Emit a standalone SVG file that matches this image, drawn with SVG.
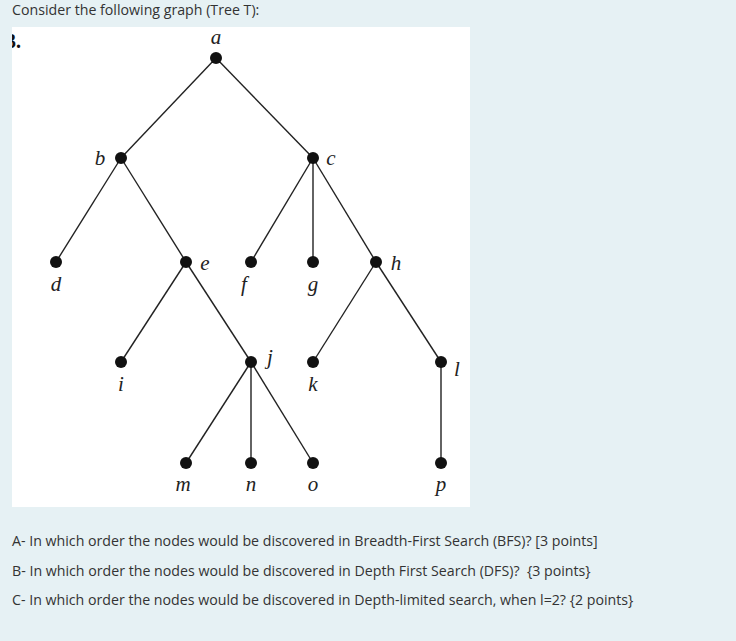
<svg xmlns="http://www.w3.org/2000/svg" width="736" height="641" viewBox="0 0 736 641">
<style>
.q{font-family:"Open Sans","DejaVu Sans",sans-serif;font-size:14.2px;fill:#333;white-space:pre}
.lb{font-family:"Liberation Serif",serif;font-style:italic;font-size:21px;fill:#222;text-anchor:middle}
.e{stroke:#222;stroke-width:1.4}
circle{fill:#111}
</style>
<rect width="736" height="641" fill="#e6f1f4"/>
<rect x="12" y="27" width="458" height="480" fill="#fff"/>
<text x="12" y="15" class="q">Consider the following graph (Tree T):</text>
<text x="6" y="48" font-family="Liberation Serif,serif" font-weight="bold" font-size="20" fill="#111">3.</text>
<rect x="0" y="27" width="12" height="30" fill="#e6f1f4"/>
<g id="connectors">
<line class="e" x1="216" y1="58" x2="121" y2="158"/>
<line class="e" x1="216" y1="58" x2="313" y2="158"/>
<line class="e" x1="121" y1="158" x2="56" y2="262"/>
<line class="e" x1="121" y1="158" x2="186" y2="262"/>
<line class="e" x1="313" y1="158" x2="251" y2="262"/>
<line class="e" x1="313" y1="158" x2="313" y2="262"/>
<line class="e" x1="313" y1="158" x2="376" y2="262"/>
<line class="e" x1="186" y1="262" x2="121" y2="362"/>
<line class="e" x1="186" y1="262" x2="251" y2="362"/>
<line class="e" x1="376" y1="262" x2="313" y2="362"/>
<line class="e" x1="376" y1="262" x2="441" y2="362"/>
<line class="e" x1="251" y1="362" x2="186" y2="463"/>
<line class="e" x1="251" y1="362" x2="251" y2="463"/>
<line class="e" x1="251" y1="362" x2="313" y2="463"/>
<line class="e" x1="441" y1="362" x2="441" y2="463"/>
</g>
<g id="a"><circle cx="216" cy="58" r="6"/><text class="lb" x="216" y="44">a</text></g>
<g id="b"><circle cx="121" cy="158" r="6"/><text class="lb" x="100" y="165">b</text></g>
<g id="c"><circle cx="313" cy="158" r="6"/><text class="lb" x="331" y="165">c</text></g>
<g id="d"><circle cx="56" cy="262" r="6"/><text class="lb" x="56" y="291">d</text></g>
<g id="e"><circle cx="186" cy="262" r="6"/><text class="lb" x="205" y="270">e</text></g>
<g id="f"><circle cx="251" cy="262" r="6"/><text class="lb" x="244" y="291">f</text></g>
<g id="g"><circle cx="313" cy="262" r="6"/><text class="lb" x="313" y="291">g</text></g>
<g id="h"><circle cx="376" cy="262" r="6"/><text class="lb" x="396" y="270">h</text></g>
<g id="i"><circle cx="121" cy="362" r="6"/><text class="lb" x="121" y="391">i</text></g>
<g id="j"><circle cx="251" cy="362" r="6"/><text class="lb" x="270" y="364">j</text></g>
<g id="k"><circle cx="313" cy="362" r="6"/><text class="lb" x="313" y="391">k</text></g>
<g id="l"><circle cx="441" cy="362" r="6"/><text class="lb" x="457" y="376">l</text></g>
<g id="m"><circle cx="186" cy="463" r="6"/><text class="lb" x="183" y="491">m</text></g>
<g id="n"><circle cx="251" cy="463" r="6"/><text class="lb" x="251" y="491">n</text></g>
<g id="o"><circle cx="313" cy="463" r="6"/><text class="lb" x="313" y="491">o</text></g>
<g id="p"><circle cx="441" cy="463" r="6"/><text class="lb" x="441" y="491">p</text></g>
<text class="q" x="12" y="546">A- In which order the nodes would be discovered in Breadth-First Search (BFS)? [3 points]</text>
<text class="q" x="12" y="576">B- In which order the nodes would be discovered in Depth First Search (DFS)?  {3 points}</text>
<text class="q" x="12" y="605">C- In which order the nodes would be discovered in Depth-limited search, when l=2? {2 points}</text>
</svg>
